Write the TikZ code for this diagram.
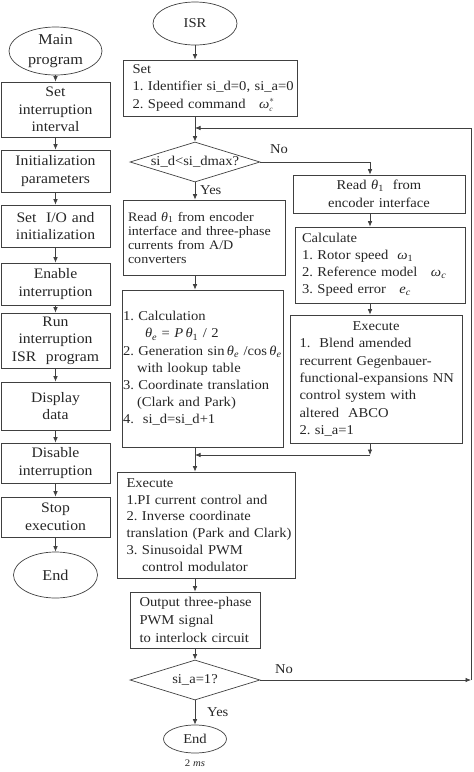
\documentclass[tikz,border=0pt]{standalone}
\usepackage{fontspec}
\setmainfont[FakeStretch=1.08]{Liberation Serif}
\usetikzlibrary{shapes.geometric,arrows.meta}
\newcommand{\thI}{\textit{θ}\textsubscript{1}}
\newcommand{\thE}{\textit{θ}\textsubscript{\textit{e}}}
\newcommand{\omc}{\textit{ω}\textsubscript{\textit{c}}}
\newcommand{\omI}{\textit{ω}\textsubscript{1}}
\newcommand{\ecc}{\textit{e}\textsubscript{\textit{c}}}
\newcommand{\omcs}{$\mbox{\textit{ω}}^{*}_{\mbox{\scriptsize\textit{c}}}$}
\newcommand{\fs}[2]{\fontsize{#1}{#2}\selectfont\frenchspacing}
\begin{document}
\begin{tikzpicture}[x=1pt,y=-1pt,
  every node/.style={text=black!85},
  box/.style={draw=black!75, line width=0.7pt, rectangle, inner ysep=0pt},
  lbox/.style={box, align=center, text width=105, inner xsep=2pt, font=\fs{14.5}{17.5}},
  rbox/.style={box, align=left},
  ell/.style={draw=black!75, line width=0.7pt, ellipse, inner sep=0pt, align=center},
  dia/.style={draw=black!75, line width=0.7pt, diamond, inner sep=0pt, aspect=3.25},
  lbl/.style={inner sep=0pt, font=\fs{13.5}{16}},
  arr/.style={draw=black!75, line width=0.7pt, -{Latex[length=5.5pt,width=4.5pt]}},
  ln/.style={draw=black!75, line width=0.7pt}]
\useasboundingbox (0,0) rectangle (474,772);
% left column
\node[ell, minimum width=93, minimum height=48, font=\fs{15}{20}] (main) at (55.5,51) {Main\\program};
\node[lbox, minimum height=55] (b1) at (55.5,109.5) {Set\\interruption\\interval};
\node[lbox, minimum height=42] (b2) at (55.5,171) {Initialization\\parameters};
\node[lbox, minimum height=42] (b3) at (55.5,226) {Set\ \ I/O and\\initialization};
\node[lbox, minimum height=42] (b4) at (55.5,284) {Enable\\interruption};
\node[lbox, minimum height=55] (b5) at (55.5,340.5) {Run\\interruption\\ISR\ \ program};
\node[lbox, minimum height=48] (b6) at (55.5,406) {Display\\data};
\node[lbox, minimum height=40] (b7) at (55.5,463) {Disable\\interruption};
\node[lbox, minimum height=40] (b8) at (55.5,517) {Stop\\execution};
\node[ell, minimum width=84, minimum height=46, font=\fs{15}{18}] (end1) at (55.5,575) {End};
\foreach \a/\b in {main/b1,b1/b2,b2/b3,b3/b4,b4/b5,b5/b6,b6/b7,b7/b8,b8/end1}
  \draw[arr] (\a.south) -- (\b.north);
% ISR column
\coordinate (cx) at (195,0);
\coordinate (rx) at (370,0);
\node[ell, minimum width=84, minimum height=43, font=\fs{13.5}{16}] (isr) at (195,23.5) {ISR};
\node[rbox, text width=164, inner xsep=5pt, minimum height=56, font=\fs{13.5}{17.5}] (set) at (210,88)
  {\mbox{\ Set}\\\mbox{\ 1. Identifier si\_d=0, si\_a=0}\\\mbox{\ 2. Speed command \ \ \omcs}};
\node[dia, minimum width=130, minimum height=40, font=\fs{13.5}{16}] (d1) at (195,162) {\makebox[0pt]{si\_d<si\_dmax?}};
\node[rbox, text width=152, inner xsep=5pt, minimum height=75, font=\fs{13}{14}] (read) at (204,237.5)
  {\mbox{Read \thI{} from encoder}\\\mbox{interface and three-phase}\\currents from A/D\\converters};
\node[rbox, text width=159, inner xsep=1pt, minimum height=157, font=\fs{13.5}{17.2}] (calc) at (202.5,368.5)
  {1. Calculation\\\hspace*{22pt}\thE{} = \textit{P}\,\thI{} / 2\\\mbox{2. Generation sin\,\thE{} /cos\,\thE}\\\hspace*{14pt}with lookup table\\\mbox{3. Coordinate translation}\\\hspace*{14pt}(Clark and Park)\\4.\ \ si\_d=si\_d+1};
\node[rbox, text width=168, inner xsep=5pt, minimum height=106, font=\fs{13.5}{16.8}] (exec1) at (206,525)
  {\ Execute\\\ 1.PI current control and\\\ 2. Inverse coordinate\\\mbox{\ translation (Park and Clark)}\\\ 3. Sinusoidal PWM\\\hspace*{20pt}control modulator};
\node[rbox, text width=120, inner xsep=5pt, minimum height=56, font=\fs{13.5}{18}] (out) at (195,620)
  {\mbox{\ Output three-phase}\\\ PWM signal\\\mbox{\ to interlock circuit}};
\node[dia, minimum width=130, minimum height=40, font=\fs{13.5}{16}] (d2) at (195,680) {\makebox[0pt]{si\_a=1?}};
\node[ell, minimum width=63, minimum height=28, font=\fs{13.5}{16}] (end2) at (195,739) {End};
\node[inner sep=0pt, font=\fs{10}{12}] (ms) at (195,763) {2 \textit{ms}};
% right column
\node[box, align=center, text width=164, inner xsep=4pt, minimum height=38, font=\fs{13.5}{18}] (read2) at (379,194)
  {Read \thI{}\ \ from\\encoder interface};
\node[rbox, text width=156, inner xsep=7pt, minimum height=76, font=\fs{13.5}{17}] (calc2) at (380,265)
  {Calculate\\1. Rotor speed \ \omI\\2. Reference model \ \ \omc\\3. Speed error \ \ \ecc};
\node[rbox, text width=162, inner xsep=5pt, minimum height=128, font=\fs{13.5}{17.4}] (exec2) at (376,379)
  {\makebox[\linewidth][c]{Execute}\\\ 1.\ \ Blend\ amended\\\ recurrent Gegenbauer-\\\mbox{\ functional-expansions NN}\\\ control system with\\\ altered\ \ ABCO\\\ 2. si\_a=1};
% labels
\node[lbl, anchor=west] (yes1) at (200,190) {Yes};
\node[lbl, anchor=west] (no1) at (270,149) {No};
\node[lbl, anchor=west] (no2) at (275,669) {No};
\node[lbl, anchor=west] (yes2) at (207,712) {Yes};
% coordinates
\coordinate (jTop) at (195,128);
\coordinate (cTR) at (471,128);
\coordinate (cBR) at (471,680);
\coordinate (jR) at (370,455);
\coordinate (jM) at (195,455);
% connectors
\draw[arr] (isr.south) -- (isr.south |- set.north);
\draw[arr] (set.south -| cx) -- (d1.north);
\draw[arr] (d1.south) -- (read.north -| cx);
\draw[arr] (read.south -| cx) -- (calc.north -| cx);
\draw[arr] (calc.south -| cx) -- (exec1.north -| cx);
\draw[arr] (exec1.south -| cx) -- (out.north);
\draw[arr] (out.south) -- (d2.north);
\draw[arr] (d2.south) -- (end2.north);
\draw[arr] (d2.east) -- (cBR);
\draw[arr] (cBR) -- (cTR) -- (jTop);
\draw[arr] (d1.east) -| (read2.north -| rx);
\draw[arr] (read2.south -| rx) -- (calc2.north -| rx);
\draw[arr] (calc2.south -| rx) -- (exec2.north -| rx);
\draw[arr] (exec2.south -| rx) -- (jR);
\draw[arr] (jR) -- (jM);
\end{tikzpicture}
\end{document}
